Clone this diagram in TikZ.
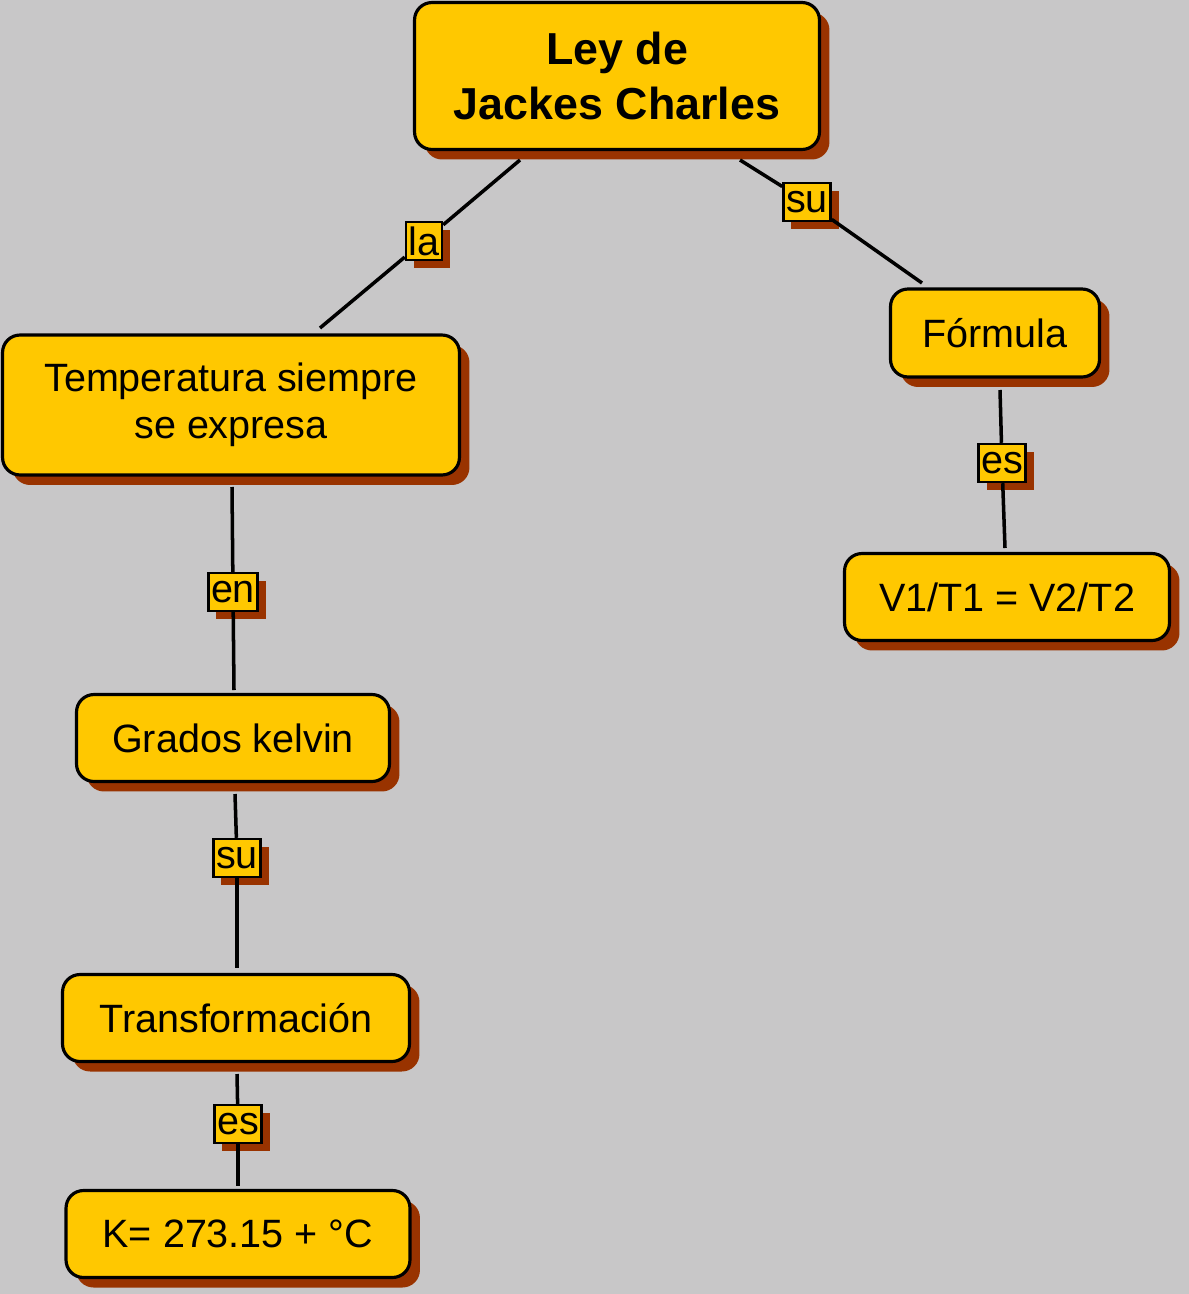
\documentclass[tikz,border=0pt]{standalone}
\usepackage{fontspec}
\setmainfont{Liberation Sans}
\usetikzlibrary{shadows}
\definecolor{bg}{HTML}{C8C7C8}
\definecolor{nfill}{HTML}{FFC800}
\definecolor{shc}{HTML}{993300}
\tikzset{
 concept/.style={draw=black,line width=1.8pt,rounded corners=0.35cm,fill=nfill,align=center,
   font=\fontsize{22.5}{27}\selectfont,inner sep=0pt,
   drop shadow={shadow xshift=0.2cm,shadow yshift=-0.2cm,fill=shc,opacity=1}},
 lbl/.style={draw=black,line width=1.4pt,fill=nfill,font=\fontsize{22.5}{27}\selectfont,
   inner xsep=1.5pt,inner ysep=0pt,minimum height=0.76cm,
   drop shadow={shadow xshift=0.16cm,shadow yshift=-0.16cm,fill=shc,opacity=1}},
 link/.style={line width=2pt,black}
}
\begin{document}
\begin{tikzpicture}[x=0.02cm,y=-0.02cm]
\fill[bg] (0,0) rectangle (1189,1294);
\useasboundingbox (0,0) rectangle (1189,1294);
\node[concept,minimum width=8.1cm,minimum height=2.94cm,font=\fontsize{25.5}{31}\selectfont\bfseries] (t) at (617,76) {Ley de\\Jackes Charles};
\node[concept,minimum width=9.14cm,minimum height=2.8cm] (temp) at (231,405) {Temperatura siempre\\se expresa};
\node[concept,minimum width=6.26cm,minimum height=1.74cm] (g) at (233,738) {Grados kelvin};
\node[concept,minimum width=6.94cm,minimum height=1.74cm] (tr) at (236,1018) {Transformación};
\node[concept,minimum width=6.88cm,minimum height=1.74cm] (k) at (238,1234) {K= 273.15 + °C};
\node[concept,minimum width=4.18cm,minimum height=1.76cm] (f) at (995,333) {Fórmula};
\node[concept,minimum width=6.5cm,minimum height=1.74cm] (v) at (1007,597) {V1/T1 = V2/T2};
\node[lbl] (l1) at (424,241) {la};
\node[lbl] (l2) at (807,202) {su};
\node[lbl] (l3) at (233,592) {en};
\node[lbl] (l4) at (237,858) {su};
\node[lbl] (l5) at (1002,463) {es};
\node[lbl] (l6) at (238,1124) {es};
\coordinate (ta) at (520,160);
\coordinate (tb) at (320,328);
\draw[link] (ta) -- (l1);
\draw[link] (l1) -- (tb);
\draw[link] (740,160) -- (l2);
\draw[link] (l2) -- (922,283);
\draw[link] (232,487) -- (l3);
\draw[link] (l3) -- (234,690);
\draw[link] (235,794) -- (l4);
\draw[link] (l4) -- (237,968);
\draw[link] (1000,390) -- (l5);
\draw[link] (l5) -- (1005,548);
\draw[link] (237,1074) -- (l6);
\draw[link] (l6) -- (238,1186);
\end{tikzpicture}
\end{document}
